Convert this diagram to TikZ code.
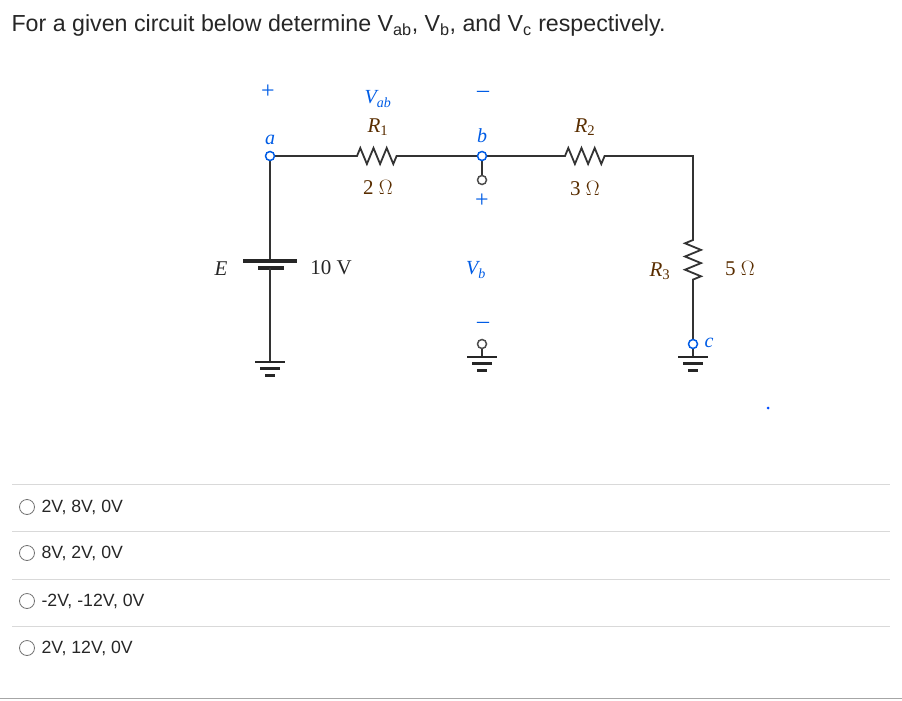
\documentclass[tikz,border=0pt]{standalone}
\usepackage{fontspec}
\setmainfont{Liberation Serif}
\newfontfamily\arial{Liberation Sans}
\begin{document}
\begin{tikzpicture}[x=1pt,y=-1pt,
  wire/.style={line width=1.8pt,draw=black!80,line join=miter},
  term/.style={circle,draw=black!70,line width=1.5pt,fill=white,inner sep=0pt,minimum size=9pt},
  bterm/.style={term,draw=blue!60!cyan!90!black},
  blab/.style={text=blue!60!cyan!90!black,font=\fontsize{20}{20}\selectfont\itshape},
  sgn/.style={text=blue!60!cyan!90!black,font=\fontsize{24}{24}\selectfont},
  olab/.style={text=black!65!orange,font=\fontsize{21}{21}\selectfont},
  opt/.style={font=\arial\fontsize{17.7}{18}\selectfont,anchor=west,text=black!85},
  radio/.style={circle,draw=black!55,line width=0.8pt,minimum size=15pt,inner sep=0pt},
  sep/.style={draw=black!15,line width=0.8pt}]
\useasboundingbox (0,0) rectangle (902,701);
% title
\node[anchor=west,font=\arial\fontsize{23.2}{24}\selectfont,text=black!85] (title) at (8,26)
 {For a given circuit below determine V\textsubscript{ab}, V\textsubscript{b}, and V\textsubscript{c} respectively.};
% coordinates
\coordinate (r1a) at (353,156); \coordinate (r1b) at (401,156);
\coordinate (r2a) at (561,156); \coordinate (r2b) at (609,156);
\coordinate (cor) at (693,156);
\coordinate (r3a) at (693,236); \coordinate (r3b) at (693,284);
\coordinate (bp) at (270,261); \coordinate (bn) at (270,268);
\coordinate (ga) at (270,362); \coordinate (gb) at (482,357); \coordinate (gc) at (693,357);
% wires
\draw[wire] (270,156) -- (r1a);
\draw[wire] (r1a) -- ++(4,0) -- ++(3.3,-8) -- ++(6.6,16) -- ++(6.6,-16) -- ++(6.6,16) -- ++(6.6,-16) -- ++(6.6,16) -- ++(3.3,-8) -- (r1b);
\draw[wire] (r1b) -- (482,156) -- (r2a);
\draw[wire] (r2a) -- ++(4,0) -- ++(3.3,-8) -- ++(6.6,16) -- ++(6.6,-16) -- ++(6.6,16) -- ++(6.6,-16) -- ++(6.6,16) -- ++(3.3,-8) -- (r2b);
\draw[wire] (r2b) -- (cor) -- (r3a);
\draw[wire] (r3a) -- ++(0,4) -- ++(-8,3.3) -- ++(16,6.6) -- ++(-16,6.6) -- ++(16,6.6) -- ++(-16,6.6) -- ++(16,6.6) -- ++(-8,3.3) -- (r3b);
\draw[wire] (r3b) -- (gc);
\draw[wire] (270,156) -- (bp);
\draw[line width=3.2pt,black!85] (243,261) -- (297,261);
\draw[line width=3.2pt,black!85] (258,268) -- (284,268);
\draw[wire] (bn) -- (ga);
\draw[wire] (482,156) -- (482,180);
\draw[wire] (482,344) -- (gb);
% grounds
\foreach \p in {ga,gb,gc}{
  \draw[line width=2.8pt,black!85] ([xshift=-15pt]\p) -- ([xshift=15pt]\p);
  \draw[line width=2.8pt,black!85] ([xshift=-10pt,yshift=-6.5pt]\p) -- ([xshift=10pt,yshift=-6.5pt]\p);
  \draw[line width=3pt,black!85] ([xshift=-5pt,yshift=-13pt]\p) -- ([xshift=5pt,yshift=-13pt]\p);
}
% terminals
\node[bterm] (a) at (270,156) {};
\node[bterm] (b) at (482,156) {};
\node[term] (b2) at (482,180) {};
\node[term] (bg) at (482,344) {};
\node[bterm] (c) at (693,344) {};
% labels
\node[blab] (la) at (270,140) {a};
\node[blab] (lb) at (482,136) {b};
\node[blab] (lc) at (709,343) {c};
\node[sgn] (pl1) at (268,92) {+};
\node[sgn] (mi1) at (483,94) {\textendash};
\node[blab] (vab) at (378,99) {V\textsubscript{ab}};
\node[sgn] (pl2) at (482,201) {+};
\node[blab] (vb) at (476,270) {V\textsubscript{b}};
\node[sgn] (mi2) at (483,325) {\textendash};
\node[olab] (R1) at (378,127) {\textit{R}\textsubscript{1}};
\node[olab] (O1) at (378,187) {2 $\Omega$};
\node[olab] (R2) at (585,127) {\textit{R}\textsubscript{2}};
\node[olab] (O2) at (585,189) {3 $\Omega$};
\node[olab] (R3) at (660,271) {\textit{R}\textsubscript{3}};
\node[olab] (O3) at (740,269) {5 $\Omega$};
\node[olab,text=black!85] (E) at (221,269) {\textit{E}};
\node[olab,text=black!85] (V10) at (331,268) {10 V};
\fill[blue!70!cyan] (768,408) circle (1.5pt);
% options
\foreach \y in {484,531,579,626} \draw[sep] (12,\y) -- (890,\y);
\draw[draw=black!35,line width=1pt] (0,698) -- (902,698);
\node[radio] (o1) at (27,507) {}; \node[opt] (t1) at (38,507) {2V, 8V, 0V};
\node[radio] (o2) at (27,553) {}; \node[opt] (t2) at (38,553) {8V, 2V, 0V};
\node[radio] (o3) at (27,601) {}; \node[opt] (t3) at (38,601) {-2V, -12V, 0V};
\node[radio] (o4) at (27,648) {}; \node[opt] (t4) at (38,648) {2V, 12V, 0V};
\end{tikzpicture}
\end{document}
